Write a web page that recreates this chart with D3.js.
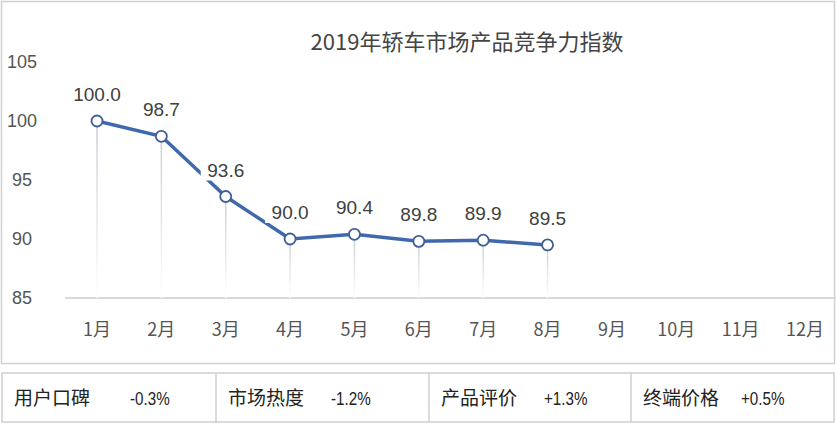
<!DOCTYPE html>
<html><head><meta charset="utf-8">
<script src="https://cdn.jsdelivr.net/npm/d3@7"></script>
<style>body{margin:0;background:#fff;font-family:"Noto Sans CJK SC","Liberation Sans",sans-serif}</style>
</head><body><svg id="c" width="836" height="425"></svg>
<script>
const months=["1月","2月","3月","4月","5月","6月","7月","8月","9月","10月","11月","12月"];
const values=[100.0,98.7,93.6,90.0,90.4,89.8,89.9,89.5];
const yTicks=[85,90,95,100,105];
const tableLabels=["用户口碑","市场热度","产品评价","终端价格"];
const tableValues=["-0.3%","-1.2%","+1.3%","+0.5%"];
const title="2019年轿车市场产品竞争力指数";

const svg=d3.select("#c");
svg.append("rect").attr("x",1.5).attr("y",1.5).attr("width",833).attr("height",362).attr("fill","none").attr("stroke","#d0d0d0").attr("stroke-width",1.5);
const x=d3.scalePoint().domain(months).range([97,805]);
const y=d3.scaleLinear().domain([85,105]).range([298,62]);
svg.append("text").attr("x",467).attr("y",50).attr("text-anchor","middle").attr("font-size",22).attr("fill","#444").text(title);
svg.selectAll(".yt").data(yTicks).join("text").attr("x",22).attr("y",d=>y(d)+6).attr("text-anchor","middle").attr("font-size",18).attr("fill","#555").attr("font-family","Liberation Sans").text(d=>d);
svg.append("line").attr("x1",65).attr("x2",836).attr("y1",y(85)).attr("y2",y(85)).attr("stroke","#d9d9d9").attr("stroke-width",2);
svg.selectAll(".xt").data(months).join("text").attr("x",d=>x(d)).attr("y",336).attr("text-anchor","middle").attr("font-size",18).attr("fill","#555").text(d=>d);
const defs=svg.append("defs");
const g=defs.append("linearGradient").attr("id","dg").attr("x1",0).attr("x2",0).attr("y1",0).attr("y2",1);
g.append("stop").attr("offset","0").attr("stop-color","#c8cdd6");
g.append("stop").attr("offset","1").attr("stop-color","#fff");
svg.selectAll(".dl").data(values).join("rect").attr("x",(d,i)=>x(months[i])-0.75).attr("y",d=>y(d)).attr("width",1.5).attr("height",d=>y(85)-y(d)).attr("fill","url(#dg)");
const line=d3.line().x((d,i)=>x(months[i])).y(d=>y(d));
svg.append("path").datum(values).attr("d",line).attr("fill","none").attr("stroke","#4068ad").attr("stroke-width",3.5);
const lab=svg.selectAll(".lb").data(values).join("g").attr("transform",(d,i)=>`translate(${x(months[i])},${y(d)-20})`);
lab.append("rect").attr("x",-25).attr("y",-21).attr("width",50).attr("height",25).attr("fill","#fff");
lab.append("text").attr("text-anchor","middle").attr("font-size",19).attr("fill","#404040").attr("font-family","Liberation Sans").text(d=>d.toFixed(1));
svg.selectAll(".mk").data(values).join("circle").attr("cx",(d,i)=>x(months[i])).attr("cy",d=>y(d)).attr("r",5.5).attr("fill","#fff").attr("stroke","#3f5f95").attr("stroke-width",1.8);
const cells=[2,216,429,631,834];
svg.append("rect").attr("x",2).attr("y",373).attr("width",832).attr("height",49).attr("fill","none").attr("stroke","#cfcfcf").attr("stroke-width",1.5);
cells.slice(1,4).forEach(c=>svg.append("line").attr("x1",c).attr("x2",c).attr("y1",373).attr("y2",422).attr("stroke","#cfcfcf").attr("stroke-width",1.5));
tableLabels.forEach((t,i)=>{
 svg.append("text").attr("x",cells[i]+12).attr("y",405).attr("font-size",19).attr("fill","#222").text(t);
 const vx=cells[i]+(i==0?128:i==3?110:115);
 svg.append("text").attr("transform",`translate(${vx},405) scale(0.8,1)`).attr("font-size",19).attr("fill","#222").attr("font-family","Liberation Sans").text(tableValues[i]);
});
</script></body></html>
